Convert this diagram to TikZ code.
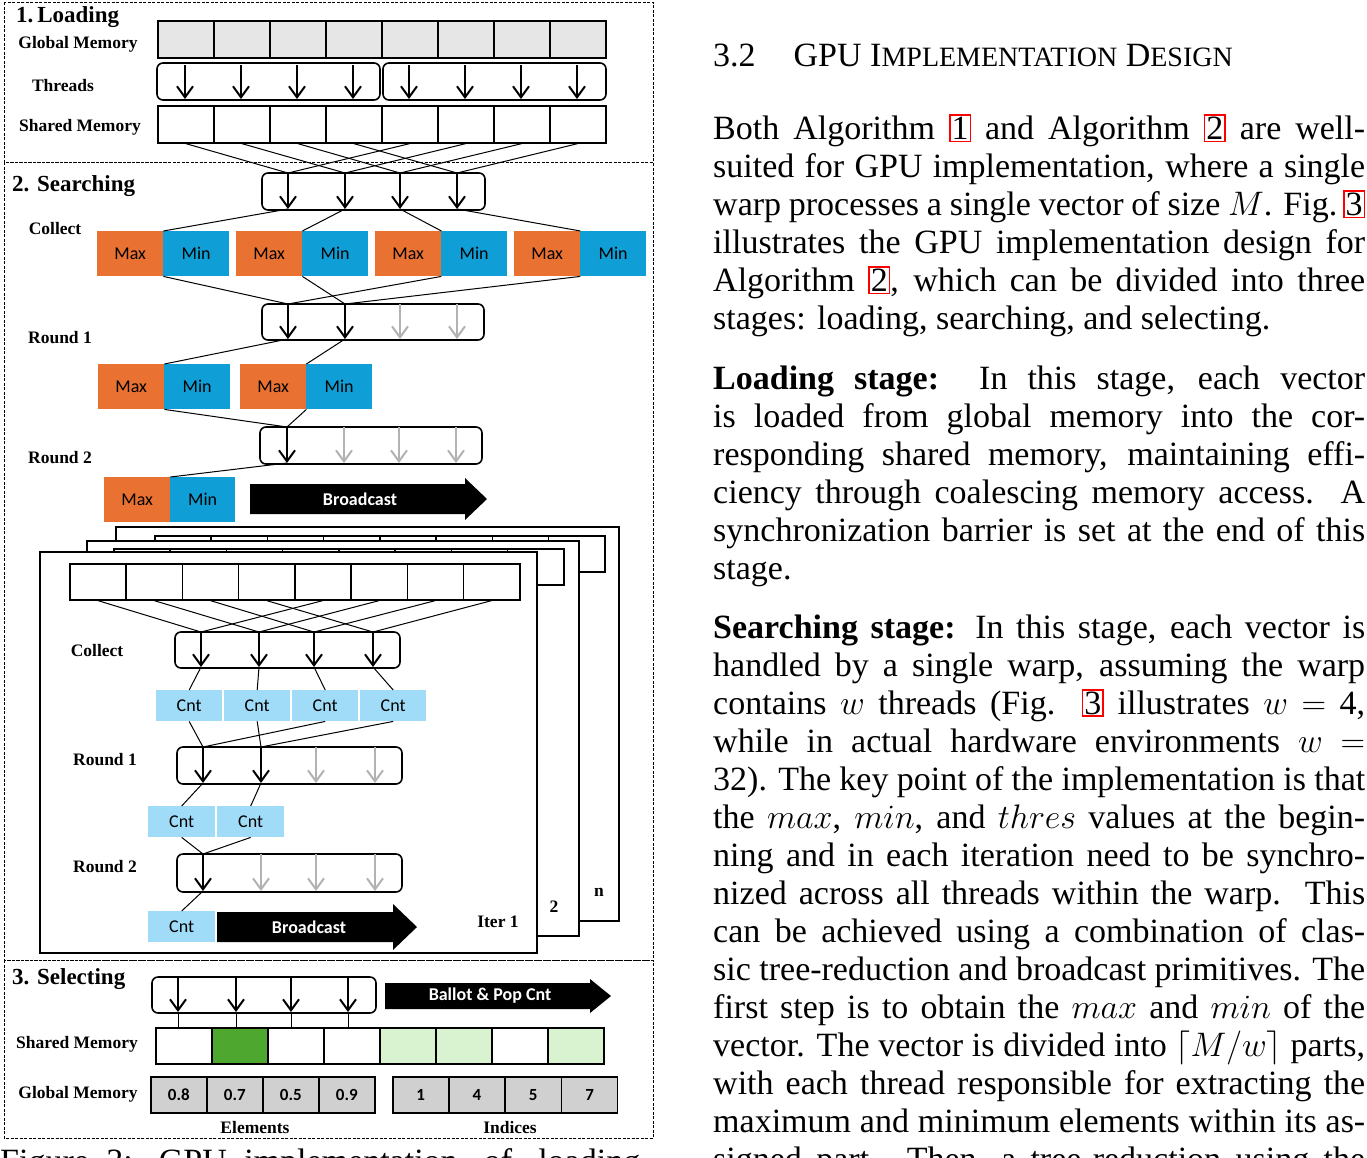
\RequirePackage{fix-cm}
\documentclass[tikz,border=0pt]{standalone}
\usepackage{fontspec}
\setmainfont{Liberation Serif}
\newfontfamily\calf{Carlito}
\usetikzlibrary{arrows.meta}
\definecolor{maxc}{HTML}{E97132}
\definecolor{minc}{HTML}{0F9ED5}
\definecolor{cntc}{HTML}{A0DCF7}
\definecolor{gmc}{HTML}{E6E6E6}
\definecolor{gm3}{HTML}{D0D0D0}
\definecolor{dg}{HTML}{4EA72E}
\definecolor{lg}{HTML}{D9F2D0}
\newcommand\rf[1]{{\setlength\fboxsep{1pt}\setlength\fboxrule{1.6pt}\fcolorbox{red}{white}{#1}}}
\newcommand\jline[2]{\node[anchor=base west,inner sep=0] (t#1) at (713,#1) {\hbox to 652pt{#2}};}
\newcommand\rline[2]{\node[anchor=base west,inner sep=0] (t#1) at (713,#1) {#2};}
\tikzset{
 lbl/.style={font=\fontsize{17.5}{20}\selectfont\bfseries, inner sep=0},
 sec/.style={font=\fontsize{23}{26}\selectfont\bfseries, anchor=west, inner sep=0},
 cell/.style={draw, line width=1.6pt, minimum width=56pt, minimum height=37pt, inner sep=0, anchor=north west},
 icell/.style={cell, minimum width=56.25pt, minimum height=36pt},
 warp/.style={draw, line width=1.6pt, rounded corners=6pt},
 thr/.style={line width=2pt, -{Straight Barb[length=11pt,width=16pt,line width=2pt]}},
 gthr/.style={thr, draw=black!30},
 mx/.style={fill=maxc, minimum width=66pt, minimum height=45pt, inner sep=0, anchor=north west, font=\calf\fontsize{18}{21}\selectfont},
 mn/.style={mx, fill=minc},
 cnt/.style={fill=cntc, minimum width=66pt, minimum height=31pt, inner sep=0, anchor=north west, font=\calf\fontsize{18}{21}\selectfont},
 conn/.style={line width=1pt},
 page/.style={draw, fill=white, line width=1.3pt},
 bcast/.style={fill=black},
 btxt/.style={text=white, font=\calf\bfseries\fontsize{18}{21}\selectfont, inner sep=0},
 sec3/.style={draw, line width=1.6pt, fill=gm3, minimum width=56pt, minimum height=36pt, inner sep=0, anchor=north west, font=\calf\bfseries\fontsize{17}{20}\selectfont},
 box/.style={dashed, line width=0.9pt, dash pattern=on 3pt off 1.5pt},
}
\begin{document}
\begin{tikzpicture}[x=1pt,y=-1pt]
\useasboundingbox (0,0) rectangle (1367,1157);
\clip (0,0) rectangle (1367,1157);
\fill[white] (0,0) rectangle (1367,1157);
% ---------- Section frames
\draw[box] (4,2) rectangle (653,162);
\draw[box] (4,162) rectangle (653,960);
\draw[box] (4,960) rectangle (653,1138);
% ---------- 1. Loading
\node[sec] (s1) at (16,17) {1.\,Loading};
\node[lbl] (l1) at (78,44) {Global Memory};
\node[lbl] (l2) at (63,86) {Threads};
\node[lbl] (l3) at (80,127) {Shared Memory};
\foreach \i in {0,...,7}{
  \node[cell, fill=gmc] (gm\i) at ({157+56*\i},20) {};
  \node[cell] (sm\i) at ({157+56*\i},105) {};
  \coordinate (ta\i) at ({185+56*\i},65);
  \coordinate (tb\i) at ({185+56*\i},99);
  \draw[thr] (ta\i) -- (tb\i);
}
\draw[warp] (157,63) rectangle (380,100);
\draw[warp] (383,63) rectangle (606,100);
% ---------- 2. Searching
\node[sec] (s2) at (12,186) {2. Searching};
\node[lbl] (l4) at (55,229) {Collect};
\node[lbl] (l5) at (60,338) {Round 1};
\node[lbl] (l6) at (60,458) {Round 2};
\foreach \x [count=\j from 0] in {288,345,400,457}{
  \coordinate (wt\j) at (\x,173);
  \coordinate (wb\j) at (\x,209);
  \coordinate (ra\j) at (\x,304);
  \coordinate (rb\j) at (\x,339);
  \coordinate (qa\j) at ({\x-1},427);
  \coordinate (qb\j) at ({\x-1},463);
}
\draw[warp] (262,173) rectangle (485,210);
\foreach \i in {0,...,3}{
  \draw[conn] (sm\i.south) -- (wt\i);
  \pgfmathtruncatemacro\k{\i+4}
  \draw[conn] (sm\k.south) -- (wt\i);
  \draw[thr] (wt\i) -- (wb\i);
}
\foreach \k in {0,...,3}{
  \node[mx] (mx\k) at ({97+139*\k},231) {Max};
  \node[mn] (mn\k) at ({163+139*\k},231) {Min};
  \draw[conn] (wb\k) -- (mx\k.north east);
}
\draw[conn] (mx0.south east) -- (ra0);
\draw[conn] (mx2.south east) -- (ra0);
\draw[conn] (mx1.south east) -- (ra1);
\draw[conn] (mx3.south east) -- (ra1);
\draw[warp] (262,304) rectangle (484,340);
\draw[thr] (ra0) -- (rb0);
\draw[thr] (ra1) -- (rb1);
\draw[gthr] (ra2) -- (rb2);
\draw[gthr] (ra3) -- (rb3);
\node[mx] (rx0) at (98,364) {Max};
\node[mn] (rn0) at (164,364) {Min};
\node[mx] (rx1) at (240,364) {Max};
\node[mn] (rn1) at (306,364) {Min};
\draw[conn] (rb0) -- (rx0.north east);
\draw[conn] (rb1) -- (rx1.north east);
\draw[conn] (rx0.south east) -- (qa0);
\draw[conn] (rx1.south east) -- (qa0);
\draw[warp] (260,427) rectangle (482,464);
\draw[thr] (qa0) -- (qb0);
\foreach \j in {1,2,3}{\draw[gthr] (qa\j) -- (qb\j);}
\node[mx] (fx) at (104,477) {Max};
\node[mn, minimum width=65pt] (fn) at (170,477) {Min};
\draw[conn] (qb0) -- (fx.north east);
\fill[bcast] (250,484) -- (465,484) -- (465,478) -- (487,499) -- (465,520) -- (465,514) -- (250,514) -- cycle;
\node[btxt] (bc1) at (360,499) {Broadcast};
% ---------- iterations
\draw[page] (116,527) rectangle (619,921);
\foreach \i in {0,...,7}{\node[icell, fill=white] (pn\i) at ({154+56.25*\i},535) {};}
\node[lbl] (ln) at (599,892) {n};
\draw[page] (87,541) rectangle (579,936);
\foreach \i in {0,...,7}{\node[icell, fill=white] (p2\i) at ({113+56.25*\i},548) {};}
\node[lbl] (l2p) at (554,907) {2};
\draw[page] (40,552) rectangle (537,953);
\foreach \i in {0,...,7}{\node[icell, fill=white] (p1\i) at ({69+56.25*\i},563) {};}
\node[lbl] (li1) at (498,922) {Iter 1};
\node[lbl] (lc) at (97,651) {Collect};
\node[lbl] (lr1) at (105,760) {Round 1};
\node[lbl] (lr2) at (105,867) {Round 2};
\foreach \x [count=\j from 0] in {201,259,314,373}{
  \coordinate (ia\j) at (\x,632);
  \coordinate (ib\j) at (\x,667);
  \coordinate (ja\j) at ({\x+2},747);
  \coordinate (jb\j) at ({\x+2},783);
  \coordinate (ka\j) at ({\x+2},854);
  \coordinate (kb\j) at ({\x+2},891);
}
\draw[warp] (175,632) rectangle (400,668);
\foreach \i in {0,...,3}{
  \draw[conn] (p1\i.south) -- (ia\i);
  \pgfmathtruncatemacro\k{\i+4}
  \draw[conn] (p1\k.south) -- (ia\i);
  \draw[thr] (ia\i) -- (ib\i);
  \node[cnt] (c\i) at ({156+68*\i},690) {Cnt};
  \draw[conn] (ib\i) -- (c\i.north);
}
\draw[conn] (c0.south) -- (ja0);
\draw[conn] (c2.south) -- (ja0);
\draw[conn] (c1.south) -- (ja1);
\draw[conn] (c3.south) -- (ja1);
\draw[warp] (177,747) rectangle (402,784);
\draw[thr] (ja0) -- (jb0);
\draw[thr] (ja1) -- (jb1);
\draw[gthr] (ja2) -- (jb2);
\draw[gthr] (ja3) -- (jb3);
\node[cnt, minimum width=67pt] (d0) at (148,806) {Cnt};
\node[cnt, minimum width=67pt] (d1) at (217,806) {Cnt};
\draw[conn] (jb0) -- (d0.north);
\draw[conn] (jb1) -- (d1.north);
\draw[conn] (d0.south) -- (ka0);
\draw[conn] (d1.south) -- (ka0);
\draw[warp] (177,854) rectangle (402,892);
\draw[thr] (ka0) -- (kb0);
\foreach \j in {1,2,3}{\draw[gthr] (ka\j) -- (kb\j);}
\node[cnt, minimum width=67pt] (e0) at (148,911) {Cnt};
\draw[conn] (kb0) -- (e0.north);
\fill[bcast] (217,912) -- (393,912) -- (393,904) -- (417,927) -- (393,950) -- (393,942) -- (217,942) -- cycle;
\node[btxt] (bc2) at (309,927) {Broadcast};
% ---------- 3. Selecting
\node[sec] (s3) at (12,979) {3. Selecting};
\node[lbl] (l7) at (77,1044) {Shared Memory};
\node[lbl] (l8) at (78,1094) {Global Memory};
\foreach \i/\f in {0/white,1/dg,2/white,3/white,4/lg,5/lg,6/white,7/lg}{
  \node[cell, fill=\f, minimum height=36pt] (ss\i) at ({155+56*\i},1027) {};
}
\foreach \x [count=\j from 0] in {178,236,291,348}{
  \coordinate (sa\j) at (\x,978);
  \coordinate (sb\j) at (\x,1012);
  \draw[thr] (sa\j) -- (sb\j);
  \draw[line width=0.8pt] (sb\j) -- (\x,1027);
}
\draw[warp] (152,977) rectangle (376,1013);
\fill[bcast] (385,983) -- (590,983) -- (590,979) -- (611,996) -- (590,1013) -- (590,1009) -- (385,1009) -- cycle;
\node[btxt] (bc3) at (490,996) {Ballot \& Pop Cnt};
\foreach \v [count=\i from 0] in {0.8,0.7,0.5,0.9}{
  \node[sec3] (el\i) at ({150+56*\i},1076) {\v};
}
\foreach \v [count=\i from 0] in {1,4,5,7}{
  \node[sec3] (ix\i) at ({392+56.25*\i},1076) {\v};
}
\node[lbl] (le) at (255,1127) {Elements};
\node[lbl] (lix) at (510,1127) {Indices};
\node[anchor=base west, inner sep=0, font=\fontsize{34}{38}\selectfont] (cap) at (0,1172) {\hbox to 640pt{Figure\ \ 3:\ \ \ GPU\ \ implementation\ \ \ of\ \ \ loading}};
% ---------- right column text
\begin{scope}[every node/.style={font=\fontsize{34}{38}\selectfont}]
\node[anchor=base west,inner sep=0] (head) at (713,66) {\fontsize{34}{38}\selectfont 3.2\hspace{38pt}GPU I{\fontsize{28}{32}\selectfont MPLEMENTATION} D{\fontsize{28}{32}\selectfont ESIGN}};
\jline{139.5}{Both Algorithm \rf{1} and Algorithm \rf{2} are well-}
\jline{177.5}{suited for GPU implementation, where a single}
\jline{215.5}{warp processes a single vector of size $M$. Fig.\,\rf{3}}
\jline{253.5}{illustrates the GPU implementation design for}
\jline{291.5}{Algorithm \rf{2}, which can be divided into three}
\rline{329.5}{stages: loading, searching, and selecting.}
\jline{389}{\textbf{Loading stage:}\ \ In this stage, each vector}
\jline{427}{is loaded from global memory into the cor-}
\jline{465}{responding shared memory, maintaining effi-}
\jline{503}{ciency through coalescing memory access.\ \ A}
\jline{541}{synchronization barrier is set at the end of this}
\rline{579}{stage.}
\jline{638}{\textbf{Searching stage:} In this stage, each vector is}
\jline{676}{handled by a single warp, assuming the warp}
\jline{714}{contains $w$ threads (Fig. \rf{3} illustrates $w$ $=$ 4,}
\jline{752}{while in actual hardware environments $w$ $=$}
\jline{790}{32). The key point of the implementation is that}
\jline{828}{the $max$, $min$, and $thres$ values at the begin-}
\jline{866}{ning and in each iteration need to be synchro-}
\jline{904}{nized across all threads within the warp.\ \ This}
\jline{942}{can be achieved using a combination of clas-}
\jline{980}{sic tree-reduction and broadcast primitives. The}
\jline{1018}{first step is to obtain the $max$ and $min$ of the}
\jline{1056}{vector. The vector is divided into $\lceil M/w\rceil$ parts,}
\jline{1094}{with each thread responsible for extracting the}
\jline{1132}{maximum and minimum elements within its as-}
\jline{1170}{signed part. Then, a tree-reduction using the}
\end{scope}
\end{tikzpicture}
\end{document}
